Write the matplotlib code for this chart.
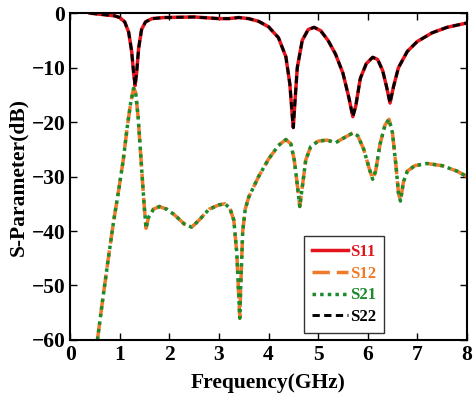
import numpy as np
import matplotlib
matplotlib.use("Agg")
import matplotlib.pyplot as plt

plt.rcParams['font.family'] = ['Liberation Serif', 'DejaVu Serif']
plt.rcParams['font.weight'] = 'bold'

# S11 / S22 (reflection)
f_s11 = np.array([0.4, 0.5, 0.7, 0.9, 1.0, 1.1, 1.18, 1.24, 1.28, 1.31, 1.34, 1.38, 1.44,
                  1.52, 1.65, 1.9, 2.5, 3.0, 3.2, 3.4, 3.6, 3.8, 4.0, 4.2, 4.35, 4.43,
                  4.48, 4.5, 4.52, 4.58, 4.68, 4.8, 4.92, 5.05, 5.2, 5.35, 5.5, 5.62,
                  5.7, 5.76, 5.85, 5.97, 6.1, 6.2, 6.3, 6.38, 6.45, 6.52, 6.62, 6.8,
                  7.0, 7.3, 7.6, 8.0])
s11 = np.array([0.0, -0.1, -0.3, -0.5, -0.8, -1.6, -3.5, -7.0, -11.0, -13.3, -11.0, -6.5, -3.0,
                -1.6, -1.0, -0.8, -0.7, -1.0, -1.0, -0.8, -1.0, -1.5, -2.5, -4.5, -8.0, -13.0,
                -19.0, -21.0, -18.0, -10.0, -5.0, -3.0, -2.6, -3.2, -5.0, -7.5, -11.0, -15.5,
                -19.0, -17.0, -12.0, -9.3, -8.1, -8.5, -10.5, -13.5, -16.5, -13.5, -10.0, -7.0,
                -5.2, -3.6, -2.6, -1.8])

# S12 / S21 (transmission)
f_s21 = np.array([0.55, 0.65, 0.77, 0.88, 0.97, 1.07, 1.15, 1.22, 1.28, 1.32, 1.37, 1.43,
                  1.49, 1.53, 1.58, 1.68, 1.8, 1.95, 2.1, 2.3, 2.45, 2.6, 2.8, 3.0, 3.12,
                  3.22, 3.3, 3.36, 3.4, 3.42, 3.44, 3.48, 3.53, 3.6, 3.8, 4.0, 4.2, 4.35,
                  4.45, 4.52, 4.58, 4.63, 4.68, 4.75, 4.85, 5.0, 5.18, 5.35, 5.5, 5.7,
                  5.8, 5.92, 6.03, 6.1, 6.16, 6.25, 6.35, 6.43, 6.5, 6.57, 6.62, 6.66,
                  6.72, 6.8, 6.95, 7.2, 7.5, 7.8, 8.0])
s21 = np.array([-60.0, -53.0, -45.0, -38.0, -33.0, -27.0, -21.0, -16.5, -13.8, -14.5, -19.0, -27.0,
                -35.0, -39.5, -37.5, -36.0, -35.5, -36.0, -37.0, -38.7, -39.3, -38.0, -36.0, -35.2, -35.0,
                -35.8, -38.0, -44.0, -52.0, -56.0, -50.0, -40.0, -36.0, -33.8, -30.0, -26.8, -24.3, -23.2,
                -24.0, -27.0, -31.5, -35.5, -32.0, -27.0, -24.5, -23.5, -23.3, -23.8, -23.0, -22.0,
                -22.5, -25.0, -28.5, -30.5, -29.0, -24.0, -20.5, -19.5, -22.0, -28.0, -33.0, -34.5,
                -31.0, -29.0, -28.0, -27.6, -28.0, -29.0, -30.0])

labels = ['S11', 'S12', 'S21', 'S22']
colors = ['#e3141c', '#f07a28', '#1a8a2a', '#000000']

fig = plt.figure(figsize=(4.74, 3.99), dpi=100)
ax = fig.add_axes([0.148, 0.148, 0.837, 0.819])

ax.plot(f_s11, s11, color=colors[0], lw=2.5, ls='-', label=labels[0])
ax.plot(f_s21, s21, color=colors[1], lw=2.5, ls=(0, (5, 2)), label=labels[1])
ax.plot(f_s21, s21, color=colors[2], lw=2.5, ls=(0, (1, 1.2)), label=labels[2])
ax.plot(f_s11, s11, color=colors[3], lw=2.1, ls=(0, (2.5, 1.5)), label=labels[3])

ax.set_xlim(0, 8)
ax.set_ylim(-60, 0)
ax.set_xticks(range(0, 9))
ax.set_yticks(range(-60, 1, 10))
ax.tick_params(direction='in', top=True, right=True, labelsize=15.5, length=5, width=1)
for s in ax.spines.values():
    s.set_linewidth(1.5)
for t in ax.get_xticklabels() + ax.get_yticklabels():
    t.set_fontweight('bold')
ax.set_xlabel('Frequency(GHz)', fontsize=15.5, fontweight='bold', labelpad=6)
ax.set_ylabel('S-Parameter(dB)', fontsize=15.5, fontweight='bold', labelpad=2)

leg = ax.legend(loc='lower left', bbox_to_anchor=(0.59, 0.022), fontsize=12,
                fancybox=False, edgecolor='black', handlelength=2.2,
                handletextpad=0.1, labelspacing=0.35, borderpad=0.45,
                borderaxespad=0.0)
leg.get_frame().set_linewidth(1.0)
for t, c in zip(leg.get_texts(), colors):
    t.set_color(c)
    t.set_fontweight('bold')

fig.savefig('out.png', dpi=100)
